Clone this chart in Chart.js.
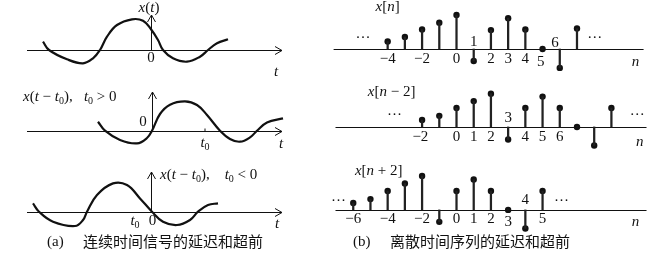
<!DOCTYPE html>
<html>
<head>
<meta charset="utf-8">
<script src="https://cdn.jsdelivr.net/npm/chart.js@4.4.0/dist/chart.umd.min.js"></script>
<style>
  body { margin: 0; background: #fff; }
  #wrap { position: relative; width: 671px; height: 259px; overflow: hidden; background: #fff; }
  canvas { position: absolute; }
  .cap { position: absolute; top: 231px; font-size: 15px; color: #111; white-space: nowrap; line-height: 20px; }
  .lat { font-family: "Liberation Serif", serif; }
  .cjk { font-family: "Noto Sans CJK SC", sans-serif; }
</style>
</head>
<body>
<div id="wrap">
  <canvas id="c1" width="305" height="80" style="left:0;top:0"></canvas>
  <canvas id="c2" width="305" height="80" style="left:0;top:80px"></canvas>
  <canvas id="c3" width="305" height="80" style="left:0;top:160px"></canvas>
  <canvas id="d1" width="361" height="80" style="left:310px;top:0"></canvas>
  <canvas id="d2" width="361" height="80" style="left:310px;top:80px"></canvas>
  <canvas id="d3" width="361" height="80" style="left:310px;top:160px"></canvas>
  <div class="cap lat" style="left:47px">(a)</div>
  <div class="cap cjk" style="left:83px">连续时间信号的延迟和超前</div>
  <div class="cap lat" style="left:353px">(b)</div>
  <div class="cap cjk" style="left:390px">离散时间序列的延迟和超前</div>
</div>
<script>
// continuous signals (t and x in the same units)
const tA = [-10.8, -10.2, -8.4, -6.8, -5.8, -5.1, -4.4, -3.4, -1.9, -0.8, 0, 0.7, 1.2, 2.2, 3.6, 4.9, 5.7, 6.6, 7.7];
const xA = [0.83, 0, -0.93, -1.33, -0.83, 0, 1.33, 2.5, 3.07, 2.93, 2.07, 1.0, 0, -0.83, -1.17, -0.67, 0, 0.67, 1.07];

const tB = [-5.4, -4.7, -3.2, -1.5, -0.5, 0, 0.8, 1.8, 3.3, 4.5, 5.5, 6.8, 7.8, 8.8, 9.8, 10.5, 11.5, 13.1];
const xB = [0.9, 0, -0.93, -1.27, -0.73, 0, 1.67, 2.6, 2.93, 2.57, 1.57, 0, -0.83, -1.1, -0.67, 0, 0.83, 1.23];

const tC = [-11.8, -11.2, -9.8, -7.6, -6.8, -6.4, -5.4, -3.8, -2.4, -1.1, 0.1, 1.2, 2.6, 3.9, 4.7, 5.7, 6.7];
const xC = [0.83, 0, -1.0, -1.43, -0.83, 0, 1.67, 2.83, 2.67, 1.33, 0, -1.0, -1.33, -0.83, 0, 0.67, 0.83];

// discrete sequences
const nTop = [-4, -3, -2, -1, 0, 1, 2, 3, 4, 5, 6, 7];
const xTop = [0.83, 1.33, 2.17, 2.93, 3.77, -1.33, 2.1, 3.43, 2.17, 0, -2.1, 2.27];

const nMid = [-2, -1, 0, 1, 2, 3, 4, 5, 6, 7, 8, 9];
const xMid = [0.77, 1.23, 2.1, 2.87, 3.7, -1.4, 2.1, 3.37, 2.1, 0, -2.07, 2.1];

const nBot = [-6, -5, -4, -3, -2, -1, 0, 1, 2, 3, 4, 5];
const xBot = [0.77, 1.2, 2.1, 2.93, 3.77, -1.33, 2.1, 3.37, 2.1, 0, -2.07, 2.1];

const INK = '#111';

// text with italic letters and "_" subscripts
function drawMath(ctx, str, x, y, size, align) {
  const parts = [];
  for (let i = 0; i < str.length; i++) {
    let ch = str[i], sub = false;
    if (ch === '_') { sub = true; ch = str[++i]; }
    parts.push({ ch, sub, it: /[a-z]/.test(ch) });
  }
  const font = p => (p.it ? 'italic ' : '') + (p.sub ? Math.round(size * 0.68) : size) + 'px "Liberation Serif"';
  let w = 0;
  parts.forEach(p => { ctx.font = font(p); p.w = ctx.measureText(p.ch).width; w += p.w; });
  let cx = align === 'center' ? x - w / 2 : align === 'right' ? x - w : x;
  ctx.textAlign = 'left';
  ctx.textBaseline = 'middle';
  parts.forEach(p => {
    ctx.font = font(p);
    ctx.fillText(p.ch, cx, p.sub ? y + size * 0.28 : y);
    cx += p.w;
  });
}

// axes, arrows and labels
const signalMarks = {
  id: 'signalMarks',
  beforeDatasetsDraw(chart, args, o) {
    const { ctx } = chart;
    const xs = chart.scales.x, ys = chart.scales.y;
    const y0 = Math.round(ys.getPixelForValue(0)) + 0.5;
    ctx.save();
    ctx.strokeStyle = INK;
    ctx.lineWidth = 1;
    const a = xs.getPixelForValue(o.axis[0]), b = xs.getPixelForValue(o.axis[1]);
    ctx.beginPath();
    ctx.moveTo(a, y0); ctx.lineTo(b, y0);
    if (o.arrow) {
      ctx.moveTo(b - 7, y0 - 4); ctx.lineTo(b, y0); ctx.lineTo(b - 7, y0 + 4);
    }
    if (o.vTop !== undefined) {
      const vx = Math.round(xs.getPixelForValue(0)) + 0.5;
      const top = ys.getPixelForValue(o.vTop);
      ctx.moveTo(vx, y0); ctx.lineTo(vx, top);
      ctx.moveTo(vx - 4, top + 7); ctx.lineTo(vx, top); ctx.lineTo(vx + 4, top + 7);
    }
    (o.ticks || []).forEach(t => {
      const tx = xs.getPixelForValue(t);
      ctx.moveTo(tx, y0); ctx.lineTo(tx, y0 - 3);
    });
    ctx.stroke();
    ctx.restore();
  },
  afterDatasetsDraw(chart, args, o) {
    const { ctx } = chart;
    const xs = chart.scales.x, ys = chart.scales.y;
    const y0 = ys.getPixelForValue(0);
    ctx.save();
    ctx.fillStyle = INK;
    (o.texts || []).forEach(tx => {
      drawMath(ctx, tx.s, xs.getPixelForValue(tx.at), y0 + tx.dy, tx.size || 15, tx.align || 'center');
    });
    ctx.restore();
  }
};

function baseOptions(xr, yr, marks) {
  return {
    responsive: false,
    animation: false,
    events: [],
    layout: { padding: 0 },
    plugins: { legend: { display: false }, tooltip: { enabled: false }, signalMarks: marks },
    scales: {
      x: { type: 'linear', display: false, offset: false, min: xr[0], max: xr[1] },
      y: { type: 'linear', display: false, min: yr[0], max: yr[1] }
    }
  };
}

function contChart(id, ts, xs, xr, yr, marks) {
  new Chart(document.getElementById(id), {
    type: 'line',
    data: {
      datasets: [{
        data: ts.map((t, i) => ({ x: t, y: xs[i] })),
        borderColor: INK,
        borderWidth: 2.2,
        tension: 0.4,
        pointRadius: 0,
        fill: false
      }]
    },
    options: baseOptions(xr, yr, marks),
    plugins: [signalMarks]
  });
}

function stemChart(id, ns, vals, yr, marks) {
  const pts = ns.map((n, i) => ({ x: n, y: vals[i] }));
  new Chart(document.getElementById(id), {
    type: 'bar',
    data: {
      datasets: [
        { type: 'bar', data: pts, backgroundColor: '#222', barThickness: 1.6, borderWidth: 0 },
        { type: 'line', data: pts, showLine: false, pointRadius: 3.2, pointBackgroundColor: INK, pointBorderWidth: 0 }
      ]
    },
    options: baseOptions([-8.28, 12.23], yr, marks),
    plugins: [signalMarks]
  });
}

// (a) continuous time
contChart('c1', tA, xA, [-15.1, 15.4], [-3.0, 5.0], {
  axis: [-12.4, 13.1], arrow: true, vTop: 3.5,
  texts: [
    { s: 'x(t)', at: -0.2, dy: -42 },
    { s: '0', at: 0, dy: 8 },
    { s: 't', at: 12.5, dy: 22 }
  ]
});
contChart('c2', tB, xB, [-15.2, 15.3], [-2.93, 5.07], {
  axis: [-12.5, 13.0], arrow: true, vTop: 3.87, ticks: [5.3],
  texts: [
    { s: 'x(t − t_0),   t_0 > 0', at: -12.9, dy: -34, align: 'left' },
    { s: '0', at: -0.9, dy: -9 },
    { s: 't_0', at: 5.3, dy: 12 },
    { s: 't', at: 12.9, dy: 13 }
  ]
});
contChart('c3', tC, xC, [-15.1, 15.4], [-2.83, 5.17], {
  axis: [-12.4, 13.1], arrow: true, vTop: 3.97,
  texts: [
    { s: 'x(t − t_0),    t_0 < 0', at: 0.9, dy: -37, align: 'left' },
    { s: 't_0', at: -1.6, dy: 9 },
    { s: '0', at: 0.15, dy: 9 },
    { s: 't', at: 12.6, dy: 12 }
  ]
});

// (b) discrete time
stemChart('d1', nTop, xTop, [-3.0, 5.0], {
  axis: [-7.14, 10.87],
  texts: [
    { s: 'x[n]', at: -4.7, dy: -42, align: 'left' },
    { s: '···', at: -5.44, dy: -11 },
    { s: '···', at: 8.03, dy: -11 },
    { s: '−4', at: -4, dy: 10 }, { s: '−2', at: -2, dy: 10 },
    { s: '0', at: 0, dy: 10 }, { s: '1', at: 1, dy: -7 },
    { s: '2', at: 2, dy: 10 }, { s: '3', at: 3, dy: 10 }, { s: '4', at: 4, dy: 10 },
    { s: '5', at: 4.9, dy: 13 }, { s: '6', at: 5.72, dy: -6 },
    { s: 'n', at: 10.4, dy: 13 }
  ]
});
stemChart('d2', nMid, xMid, [-3.23, 4.77], {
  axis: [-7.03, 11.04],
  texts: [
    { s: 'x[n − 2]', at: -5.15, dy: -35, align: 'left' },
    { s: '···', at: -3.6, dy: -12 },
    { s: '···', at: 10.5, dy: -12 },
    { s: '−2', at: -2.1, dy: 10 }, { s: '0', at: 0, dy: 10 }, { s: '1', at: 1, dy: 10 },
    { s: '2', at: 2, dy: 10 }, { s: '3', at: 3, dy: -9 }, { s: '4', at: 4, dy: 10 },
    { s: '5', at: 5, dy: 10 }, { s: '6', at: 6, dy: 10 },
    { s: 'n', at: 10.65, dy: 15 }
  ]
});
stemChart('d3', nBot, xBot, [-2.9, 5.1], {
  axis: [-7.03, 11.04],
  texts: [
    { s: 'x[n + 2]', at: -5.9, dy: -39, align: 'left' },
    { s: '···', at: -6.86, dy: -9 },
    { s: '···', at: 6.1, dy: -9 },
    { s: '−6', at: -6, dy: 9 }, { s: '−4', at: -4, dy: 9 }, { s: '−2', at: -2, dy: 9 },
    { s: '0', at: 0, dy: 9 }, { s: '1', at: 1, dy: 9 }, { s: '2', at: 2, dy: 9 },
    { s: '3', at: 3, dy: 12 }, { s: '4', at: 4, dy: -10 }, { s: '5', at: 5, dy: 9 },
    { s: 'n', at: 10.4, dy: 12 }
  ]
});
</script>
</body>
</html>
